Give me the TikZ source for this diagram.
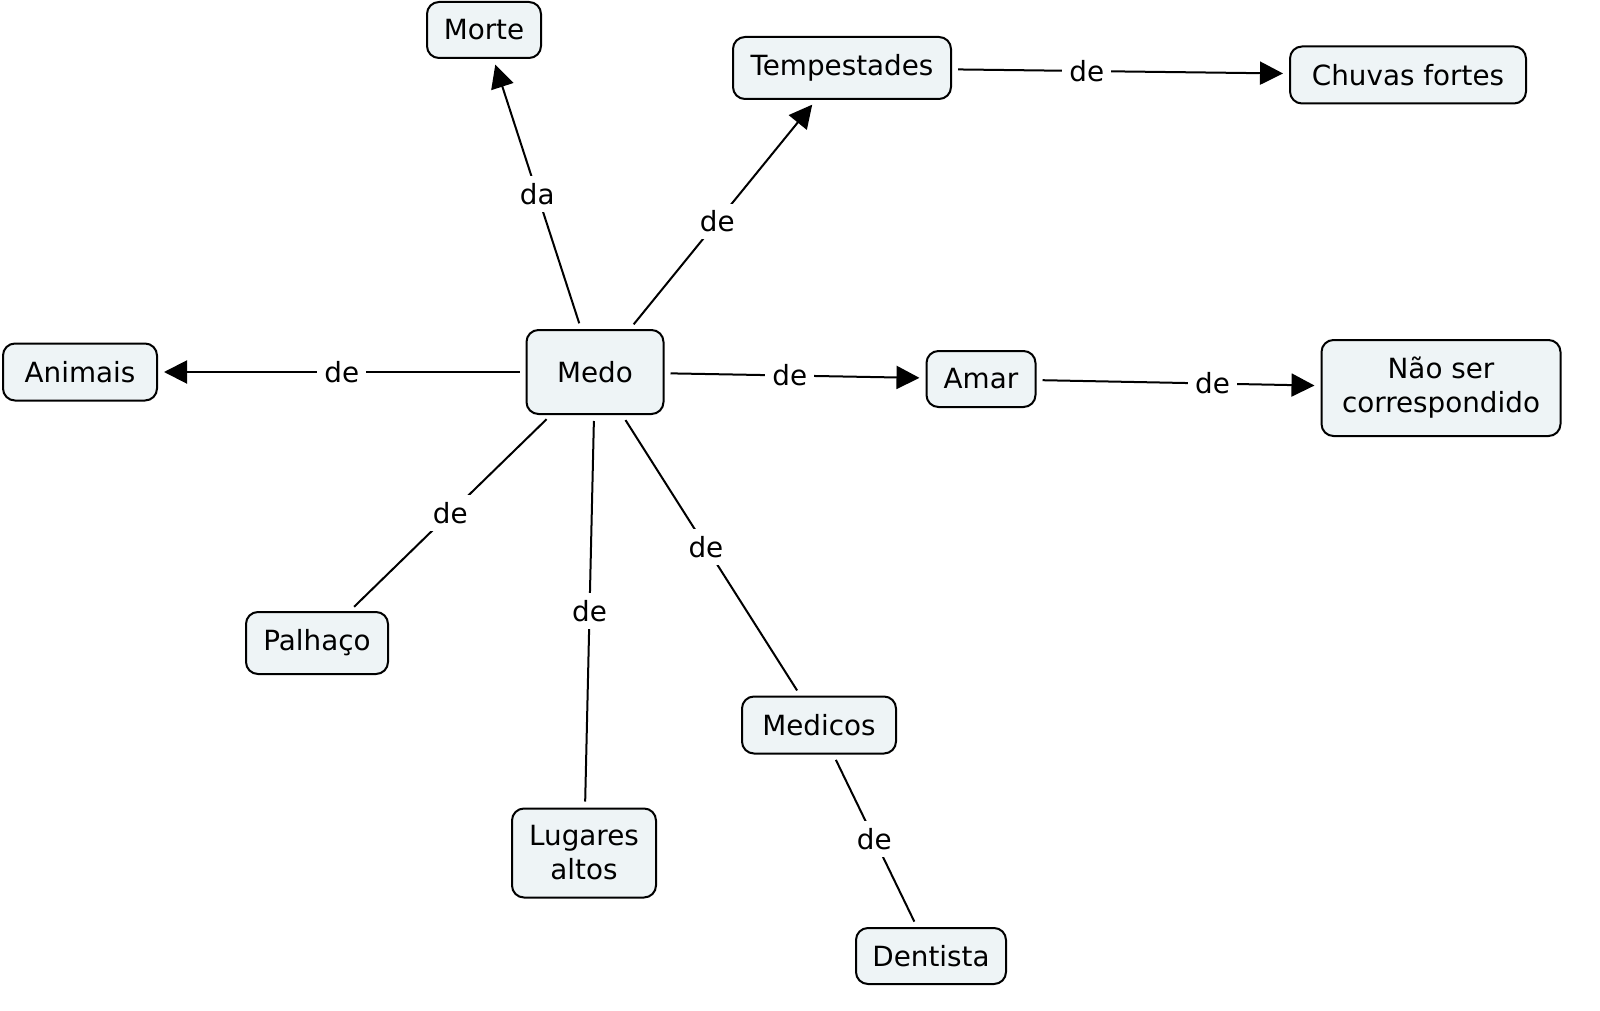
\documentclass[tikz,border=0pt]{standalone}
\usepackage{fontspec}
\setmainfont{DejaVu Sans}
\usetikzlibrary{arrows.meta}
\definecolor{conceptfill}{RGB}{238,244,246}

\begin{document}
\begin{tikzpicture}[x=0.5pt, y=-0.5pt,
  concept/.style = {shape=rectangle, rounded corners=6pt,
    draw, line width=1pt, align=center, inner sep=0pt,
    fill=conceptfill, font=\fontsize{13.9}{17}\selectfont},
  link/.style = {line width=1pt, shorten <=3pt, shorten >=3pt},
  arrow/.style = {link, -{Triangle[length=11.5pt, width=11.5pt]}},
  linkname/.style = {fill=white, inner sep=3.5pt,
    font=\fontsize{13.9}{17}\selectfont}]
  \useasboundingbox (0,0) rectangle (1600,1011);
  % concepts
  \node[concept, minimum width=68.5pt, minimum height=42pt] (medo) at (595,372) {Medo};
  \node[concept, minimum width=57pt, minimum height=28pt] (morte) at (484,30) {Morte};
  \node[concept, minimum width=109pt, minimum height=31pt] (tempestades) at (842,68) {Tempestades};
  \node[concept, minimum width=118pt, minimum height=28.5pt] (chuvas) at (1408,75) {Chuvas fortes};
  \node[concept, minimum width=77pt, minimum height=28.5pt] (animais) at (80,372) {Animais};
  \node[concept, minimum width=54.5pt, minimum height=28pt] (amar) at (981,379) {Amar};
  \node[concept, minimum width=119.5pt, minimum height=48pt] (naoser) at (1441,388) {Não ser\\correspondido};
  \node[concept, minimum width=71pt, minimum height=31pt] (palhaco) at (317,643) {Palhaço};
  \node[concept, minimum width=72pt, minimum height=44.5pt] (lugares) at (584,853) {Lugares\\altos};
  \node[concept, minimum width=77pt, minimum height=28.5pt] (medicos) at (819,725) {Medicos};
  \node[concept, minimum width=75pt, minimum height=28pt] (dentista) at (931,956) {Dentista};
  % links
  \draw[arrow] (medo) -- node[linkname, pos=0.5] {da} (morte);
  \draw[arrow] (medo) -- node[linkname, pos=0.47] {de} (tempestades);
  \draw[arrow] (tempestades) -- node[linkname, pos=0.40] {de} (chuvas);
  \draw[arrow] (medo) -- node[linkname, pos=0.5] {de} (animais);
  \draw[arrow] (medo) -- node[linkname, pos=0.48] {de} (amar);
  \draw[arrow] (amar) -- node[linkname, pos=0.62] {de} (naoser);
  \draw[link] (medo) -- node[linkname, pos=0.5] {de} (palhaco);
  \draw[link] (medo) -- node[linkname, pos=0.5] {de} (lugares);
  \draw[link] (medo) -- node[linkname, pos=0.47] {de} (medicos);
  \draw[link] (medicos) -- node[linkname, pos=0.49] {de} (dentista);
\end{tikzpicture}
\end{document}
